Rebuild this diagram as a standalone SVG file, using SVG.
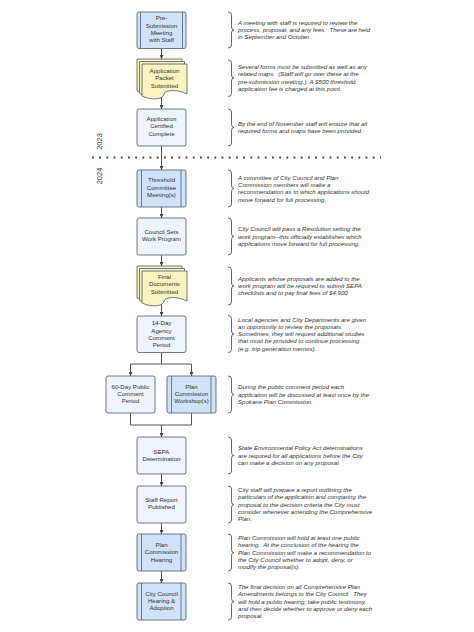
<svg xmlns="http://www.w3.org/2000/svg" width="474" height="632" viewBox="0 0 474 632">
<style>
.bg{fill:#ffffff}
.box{fill:#edf4fd;stroke:#5f6b78;stroke-width:0.9}
.sub{fill:#cfe2f8;stroke:#5f6b78;stroke-width:0.9}
.doc{fill:#fbf3bf;stroke:#5f6b78;stroke-width:0.9}
.in{stroke:#5f6b78;stroke-width:0.9;fill:none}
.nt{font-family:"Liberation Sans",Arial,sans-serif;font-size:6.1px;fill:#333;text-anchor:middle}
.dt{font-family:"Liberation Sans",Arial,sans-serif;font-size:6.1px;fill:#333;font-style:italic;white-space:pre}
.yr{font-family:"Liberation Sans",Arial,sans-serif;font-size:7.5px;fill:#333;text-anchor:middle}
.ln{fill:none;stroke:#444;stroke-width:0.9}
.br{fill:none;stroke:#444;stroke-width:0.8}
.dot{fill:none;stroke:#444;stroke-width:1.8;stroke-dasharray:1.8 5.4}
</style>
<defs>
<marker id="ah" viewBox="0 0 6 6" refX="6" refY="3" markerWidth="4" markerHeight="4" orient="auto" markerUnits="userSpaceOnUse">
<path d="M0,0 L6,3 L0,6 Z" fill="#444"/>
</marker>
<path id="sheet" d="M0,0 H45 V30 C33,24 22,27 22,30 C22,35 10,37 0,32 Z"/>
</defs>
<rect class="bg" x="0" y="0" width="474" height="632"/>

<g id="connectors">
<path class="ln" d="M161.5,48.5 V59" marker-end="url(#ah)"/>
<path class="ln" d="M161.5,97 V109" marker-end="url(#ah)"/>
<path class="ln" d="M161.5,146 V170" marker-end="url(#ah)"/>
<path class="ln" d="M161.5,207 V218" marker-end="url(#ah)"/>
<path class="ln" d="M161.5,255 V266" marker-end="url(#ah)"/>
<path class="ln" d="M161.5,304 V316" marker-end="url(#ah)"/>
<path class="ln" d="M161.5,352 V364 H130.5 V376" marker-end="url(#ah)"/>
<path class="ln" d="M161.5,364 H191.5 V376" marker-end="url(#ah)"/>
<path class="ln" d="M130.5,413 V425 H191.5 V413"/>
<path class="ln" d="M161.5,425 V437" marker-end="url(#ah)"/>
<path class="ln" d="M161.5,474 V486" marker-end="url(#ah)"/>
<path class="ln" d="M161.5,523 V534" marker-end="url(#ah)"/>
<path class="ln" d="M161.5,571 V583" marker-end="url(#ah)"/>
</g>

<g id="timeline">
<path class="dot" d="M92,157.5 H381"/>
<text class="yr" transform="translate(102,141.5) rotate(-90)">2023</text>
<text class="yr" transform="translate(102,176) rotate(-90)">2024</text>
</g>

<g id="n-presubmission">
<rect class="sub" x="137" y="12" width="49" height="36.5" rx="2"/>
<path class="in" d="M140.5,12 V48.5 M182.5,12 V48.5"/>
<text class="nt" x="161.5" y="20.2">Pre-</text>
<text class="nt" x="161.5" y="27.6">Submission</text>
<text class="nt" x="161.5" y="35">Meeting</text>
<text class="nt" x="161.5" y="42.4">with Staff</text>
</g>

<g id="n-packet">
<use href="#sheet" class="doc" x="137" y="59"/>
<use href="#sheet" class="doc" x="139.5" y="61.5"/>
<use href="#sheet" class="doc" x="142" y="64"/>
<text class="nt" x="164.5" y="73.1">Application</text>
<text class="nt" x="164.5" y="80.4">Packet</text>
<text class="nt" x="164.5" y="87.8">Submitted</text>
</g>

<g id="n-certified">
<rect class="box" x="137" y="109" width="49" height="37" rx="2"/>
<text class="nt" x="161.5" y="121.1">Application</text>
<text class="nt" x="161.5" y="128.4">Certified</text>
<text class="nt" x="161.5" y="135.8">Complete</text>
</g>

<g id="n-threshold">
<rect class="sub" x="137" y="170" width="49" height="37" rx="2"/>
<path class="in" d="M141.5,170 V207 M181,170 V207"/>
<text class="nt" x="161.5" y="182.1">Threshold</text>
<text class="nt" x="161.5" y="189.6">Committee</text>
<text class="nt" x="161.5" y="197.1">Meeting(s)</text>
</g>

<g id="n-council-sets">
<rect class="box" x="137" y="218" width="49" height="37" rx="2"/>
<text class="nt" x="161.5" y="233.8">Council Sets</text>
<text class="nt" x="161.5" y="241.4">Work Program</text>
</g>

<g id="n-final-docs">
<use href="#sheet" class="doc" x="137" y="266"/>
<use href="#sheet" class="doc" x="139.5" y="268.5"/>
<use href="#sheet" class="doc" x="142" y="271"/>
<text class="nt" x="164.5" y="278.8">Final</text>
<text class="nt" x="164.5" y="286.3">Documents</text>
<text class="nt" x="164.5" y="293.8">Submitted</text>
</g>

<g id="n-agency">
<rect class="box" x="137" y="316" width="49" height="36.5" rx="2"/>
<text class="nt" x="161.5" y="325.4">14-Day</text>
<text class="nt" x="161.5" y="332.7">Agency</text>
<text class="nt" x="161.5" y="340">Comment</text>
<text class="nt" x="161.5" y="347.3">Period</text>
</g>

<g id="n-public">
<rect class="box" x="106" y="376" width="49" height="37" rx="2"/>
<text class="nt" x="130.5" y="388.8">60-Day Public</text>
<text class="nt" x="130.5" y="396.1">Comment</text>
<text class="nt" x="130.5" y="403.3">Period</text>
</g>

<g id="n-workshop">
<rect class="sub" x="167" y="376" width="49" height="37" rx="2"/>
<path class="in" d="M171.5,376 V413 M211,376 V413"/>
<text class="nt" x="191.5" y="388.8">Plan</text>
<text class="nt" x="191.5" y="396.1">Commission</text>
<text class="nt" x="191.5" y="403.3">Workshop(s)</text>
</g>

<g id="n-sepa">
<rect class="box" x="137" y="437" width="49" height="37" rx="2"/>
<text class="nt" x="161.5" y="453.8">SEPA</text>
<text class="nt" x="161.5" y="460.9">Determination</text>
</g>

<g id="n-staff-report">
<rect class="box" x="137" y="486" width="49" height="37" rx="2"/>
<text class="nt" x="161.5" y="502.1">Staff Report</text>
<text class="nt" x="161.5" y="509.4">Published</text>
</g>

<g id="n-pc-hearing">
<rect class="sub" x="137" y="534" width="49" height="37" rx="2"/>
<path class="in" d="M141.5,534 V571 M181,534 V571"/>
<text class="nt" x="161.5" y="547.1">Plan</text>
<text class="nt" x="161.5" y="554.4">Commission</text>
<text class="nt" x="161.5" y="561.5">Hearing</text>
</g>

<g id="n-cc-hearing">
<rect class="sub" x="137" y="583" width="49" height="37" rx="2"/>
<path class="in" d="M141.5,583 V620 M181,583 V620"/>
<text class="nt" x="161.5" y="595.8">City Council</text>
<text class="nt" x="161.5" y="603">Hearing &amp;</text>
<text class="nt" x="161.5" y="610.2">Adoption</text>
</g>

<g id="braces">
<path class="br" d="M228,12 Q231.5,12 231.5,15 V27 Q231.5,30 234,30 Q231.5,30 231.5,33 V45 Q231.5,48 228,48"/>
<path class="br" d="M228,60 Q231.5,60 231.5,63 V75 Q231.5,78 234,78 Q231.5,78 231.5,81 V93.5 Q231.5,96.5 228,96.5"/>
<path class="br" d="M228,109 Q231.5,109 231.5,112 V124.5 Q231.5,127.5 234,127.5 Q231.5,127.5 231.5,130.5 V143 Q231.5,146 228,146"/>
<path class="br" d="M228,170 Q231.5,170 231.5,173 V185.5 Q231.5,188.5 234,188.5 Q231.5,188.5 231.5,191.5 V204 Q231.5,207 228,207"/>
<path class="br" d="M228,218 Q231.5,218 231.5,221 V233.5 Q231.5,236.5 234,236.5 Q231.5,236.5 231.5,239.5 V252 Q231.5,255 228,255"/>
<path class="br" d="M228,267 Q231.5,267 231.5,270 V283 Q231.5,286 234,286 Q231.5,286 231.5,289 V302 Q231.5,305 228,305"/>
<path class="br" d="M228,315.5 Q231.5,315.5 231.5,318.5 V331 Q231.5,334 234,334 Q231.5,334 231.5,337 V349.5 Q231.5,352.5 228,352.5"/>
<path class="br" d="M228,376 Q231.5,376 231.5,379 V391.5 Q231.5,394.5 234,394.5 Q231.5,394.5 231.5,397.5 V410 Q231.5,413 228,413"/>
<path class="br" d="M228,437 Q231.5,437 231.5,440 V452.5 Q231.5,455.5 234,455.5 Q231.5,455.5 231.5,458.5 V471 Q231.5,474 228,474"/>
<path class="br" d="M228,486 Q231.5,486 231.5,489 V501.5 Q231.5,504.5 234,504.5 Q231.5,504.5 231.5,507.5 V520 Q231.5,523 228,523"/>
<path class="br" d="M228,534 Q231.5,534 231.5,537 V549.5 Q231.5,552.5 234,552.5 Q231.5,552.5 231.5,555.5 V568 Q231.5,571 228,571"/>
<path class="br" d="M228,583 Q231.5,583 231.5,586 V598.5 Q231.5,601.5 234,601.5 Q231.5,601.5 231.5,604.5 V617 Q231.5,620 228,620"/>
</g>

<g id="descriptions" xml:space="preserve">
<text class="dt" x="238" y="24.8">A meeting with staff is required to review the</text>
<text class="dt" x="238" y="32.1">process, proposal, and any fees.  These are held</text>
<text class="dt" x="238" y="39.4">in September and October.</text>

<text class="dt" x="238" y="69.1">Several forms must be submitted as well as any</text>
<text class="dt" x="238" y="76.4">related maps.  (Staff will go over these at the</text>
<text class="dt" x="238" y="83.7">pre-submission meeting.)  A $500 threshold</text>
<text class="dt" x="238" y="91">application fee is charged at this point.</text>

<text class="dt" x="238" y="126">By the end of November staff will ensure that all</text>
<text class="dt" x="238" y="133.3">required forms and maps have been provided.</text>

<text class="dt" x="238" y="179.7">A committee of City Council and Plan</text>
<text class="dt" x="238" y="187">Commission members will make a</text>
<text class="dt" x="238" y="194.3">recommendation as to which applications should</text>
<text class="dt" x="238" y="201.6">move forward for full processing.</text>

<text class="dt" x="238" y="231.3">City Council will pass a Resolution setting the</text>
<text class="dt" x="238" y="238.6">work program--this officially establishes which</text>
<text class="dt" x="238" y="245.9">applications move forward for full processing.</text>

<text class="dt" x="238" y="280.8">Applicants whose proposals are added to the</text>
<text class="dt" x="238" y="288.1">work program will be required to submit SEPA</text>
<text class="dt" x="238" y="295.4">checklists and to pay final fees of $4,900.</text>

<text class="dt" x="238" y="321.5">Local agencies and City Departments are given</text>
<text class="dt" x="238" y="328.8">an opportunity to review the proposals.</text>
<text class="dt" x="238" y="336.1">Sometimes, they will request additional studies</text>
<text class="dt" x="238" y="343.4">that must be provided to continue processing</text>
<text class="dt" x="238" y="350.7">(e.g. trip generation memos).</text>

<text class="dt" x="238" y="389.3">During the public comment period each</text>
<text class="dt" x="238" y="396.6">application will be discussed at least once by the</text>
<text class="dt" x="238" y="403.9">Spokane Plan Commission.</text>

<text class="dt" x="238" y="450.3">State Environmental Policy Act determinations</text>
<text class="dt" x="238" y="457.6">are required for all applications before the City</text>
<text class="dt" x="238" y="464.9">can make a decision on any proposal.</text>

<text class="dt" x="238" y="492">City staff will prepare a report outlining the</text>
<text class="dt" x="238" y="499.3">particulars of the application and comparing the</text>
<text class="dt" x="238" y="506.6">proposal to the decision criteria the City must</text>
<text class="dt" x="238" y="513.9">consider whenever amending the Comprehensive</text>
<text class="dt" x="238" y="521.2">Plan.</text>

<text class="dt" x="238" y="540">Plan Commission will hold at least one public</text>
<text class="dt" x="238" y="547.3">hearing.  At the conclusion of the hearing the</text>
<text class="dt" x="238" y="554.6">Plan Commission will make a recommendation to</text>
<text class="dt" x="238" y="561.9">the City Council whether to adopt, deny, or</text>
<text class="dt" x="238" y="569.2">modify the proposal(s).</text>

<text class="dt" x="238" y="589">The final decision on all Comprehensive Plan</text>
<text class="dt" x="238" y="596.3">Amendments belongs to the City Council.  They</text>
<text class="dt" x="238" y="603.6">will hold a public hearing, take public testimony,</text>
<text class="dt" x="238" y="610.9">and then decide whether to approve or deny each</text>
<text class="dt" x="238" y="618.2">proposal.</text>
</g>
</svg>
